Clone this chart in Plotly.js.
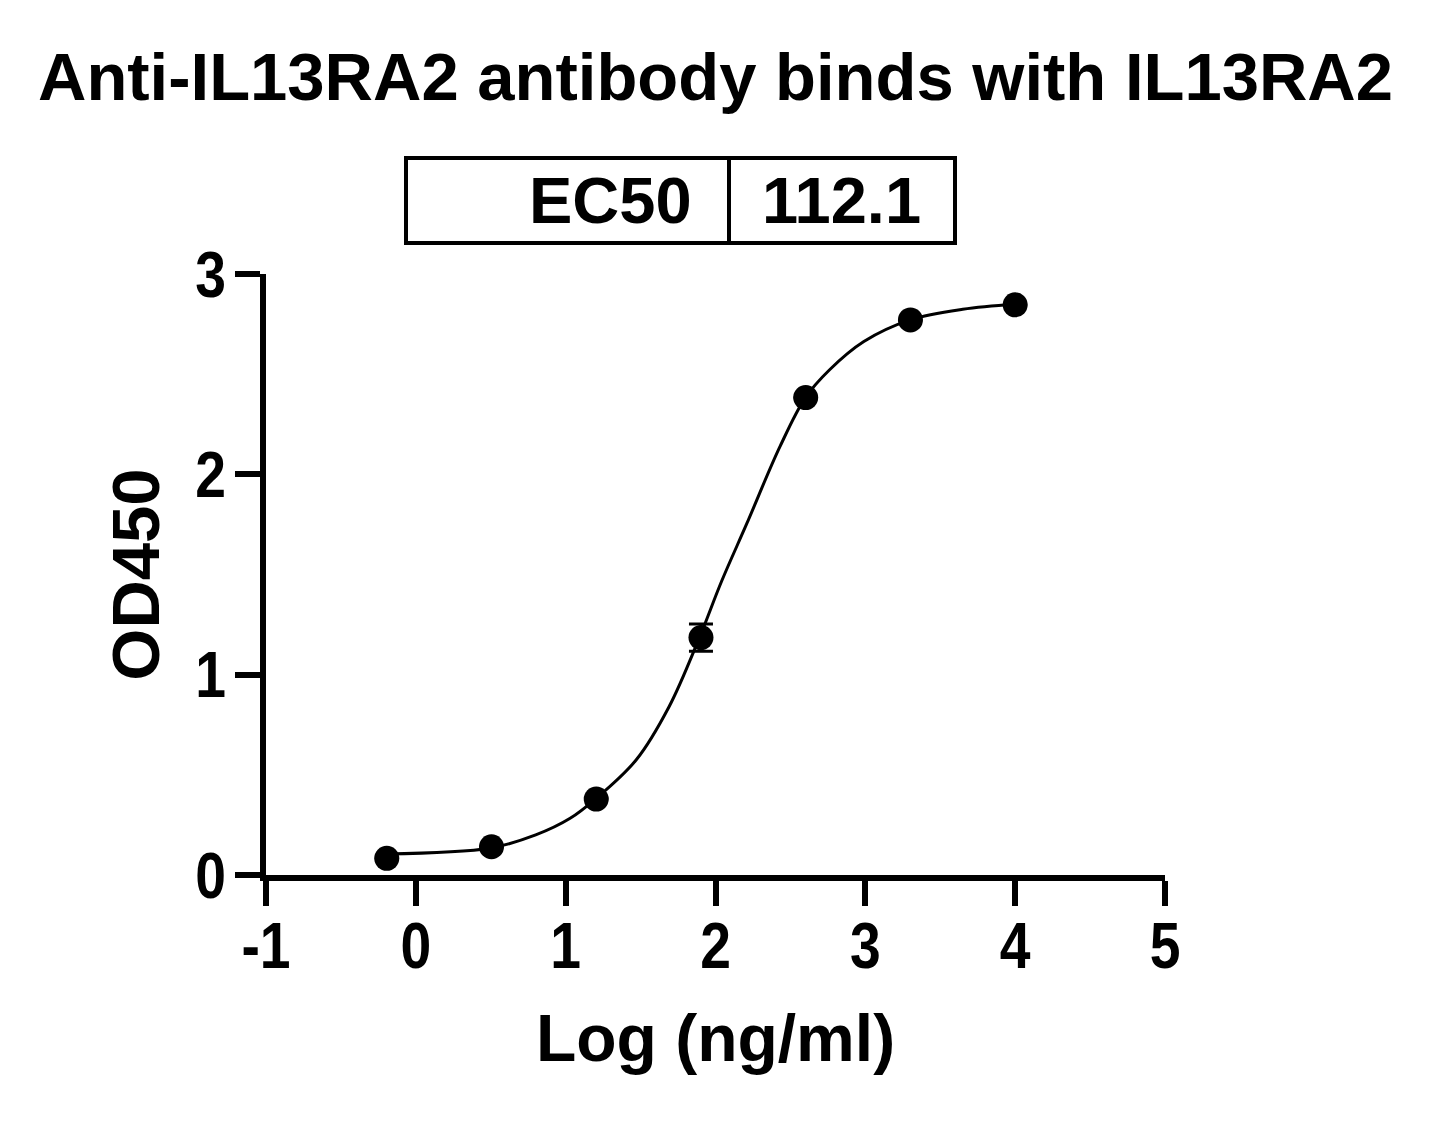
<!DOCTYPE html>
<html>
<head>
<meta charset="utf-8">
<script src="https://cdn.plot.ly/plotly-3.0.1.min.js"></script>
<style>html,body{margin:0;padding:0;background:#fff;}#chart{width:1431px;height:1121px;}</style>
</head>
<body>
<div id="chart"></div>
<script>
// Measured points: Log(ng/ml) vs OD450
const logConc = [-0.194, 0.505, 1.204, 1.903, 2.602, 3.301, 4.0];
const od450 = [0.083, 0.141, 0.379, 1.185, 2.383, 2.771, 2.846];
const od450Err = [0, 0, 0, 0.068, 0, 0, 0];

// Fitted curve
const fitX = [-0.2, 0.5, 0.8, 1.03, 1.2, 1.47, 1.69, 1.89, 2.04, 2.21, 2.43, 2.6, 2.76, 2.99, 3.3, 3.65, 4.0];
const fitY = [0.105, 0.135, 0.2, 0.283, 0.38, 0.574, 0.84, 1.18, 1.465, 1.756, 2.138, 2.383, 2.521, 2.663, 2.771, 2.824, 2.849];

const xTicks = [-1, 0, 1, 2, 3, 4, 5];
const yTicks = [0, 1, 2, 3];

const tableLabel = "EC50";
const tableValue = "112.1";

const FONT = "Arial, 'Liberation Sans', Helvetica, sans-serif";

const traces = [
  {
    x: fitX, y: fitY, mode: 'lines', type: 'scatter',
    line: {color: '#000', width: 3, shape: 'spline', smoothing: 1},
    hoverinfo: 'skip', showlegend: false
  },
  {
    x: logConc, y: od450, mode: 'markers', type: 'scatter',
    marker: {color: '#000', size: 25},
    error_y: {type: 'data', array: od450Err, visible: true, color: '#000', thickness: 3, width: 12},
    showlegend: false
  }
];

const L = 266, R = 1165, T = 274, B = 875;
const pw = R - L, ph = B - T;
const px = v => (v - L) / pw;
const py = v => (B - v) / ph;

const layout = {
  width: 1431, height: 1121,
  paper_bgcolor: '#fff', plot_bgcolor: '#fff',
  margin: {l: L, r: 1431 - R, t: T, b: 1121 - B, pad: 0},
  font: {family: FONT, color: '#000', weight: 700},
  title: {
    text: 'Anti-IL13RA2 antibody binds with IL13RA2',
    font: {family: FONT, size: 67, weight: 700, color: '#000'},
    x: 0.5, xref: 'container', xanchor: 'center',
    y: 1 - 77 / 1121, yref: 'container', yanchor: 'middle'
  },
  xaxis: {
    range: [-1, 5], tickvals: xTicks, ticktext: xTicks.map(String),
    showgrid: false, zeroline: false, showline: true, linewidth: 6, linecolor: '#000',
    ticks: 'outside', ticklen: 25, tickwidth: 6, tickcolor: '#000',
    ticklabelstandoff: -16,
    tickfont: {family: FONT, size: 65, weight: 700, color: '#000'},
    title: {text: 'Log (ng/ml)', font: {family: FONT, size: 66, weight: 700, color: '#000'}, standoff: 36},
    automargin: false, fixedrange: true
  },
  yaxis: {
    range: [0, 3], tickvals: yTicks, ticktext: yTicks.map(String),
    showgrid: false, zeroline: false, showline: true, linewidth: 6, linecolor: '#000',
    ticks: 'outside', ticklen: 25, tickwidth: 6, tickcolor: '#000',
    ticklabelstandoff: -4,
    tickfont: {family: FONT, size: 65, weight: 700, color: '#000'},
    title: {text: 'OD450', font: {family: FONT, size: 67, weight: 700, color: '#000'}, standoff: 10},
    automargin: false, fixedrange: true
  },
  shapes: [
    {type: 'rect', xref: 'paper', yref: 'paper', x0: px(406), x1: px(955), y0: py(243), y1: py(158),
     line: {color: '#000', width: 4}, fillcolor: 'rgba(0,0,0,0)'},
    {type: 'line', xref: 'paper', yref: 'paper', x0: px(729), x1: px(729), y0: py(243), y1: py(158),
     line: {color: '#000', width: 4}}
  ],
  annotations: [
    {text: tableLabel, xref: 'paper', yref: 'paper', x: px(694), y: py(200), xanchor: 'right', yanchor: 'middle',
     showarrow: false, font: {family: FONT, size: 65, weight: 700, color: '#000'}},
    {text: tableValue, xref: 'paper', yref: 'paper', x: px(841), y: py(200), xanchor: 'center', yanchor: 'middle',
     showarrow: false, font: {family: FONT, size: 65, weight: 700, color: '#000'}}
  ]
};

// Tick labels in the reference use a condensed face; compress them horizontally about their anchor.
function condenseTicks(gd) {
  gd.querySelectorAll('.xtick text, .ytick text').forEach(t => {
    const x = parseFloat(t.getAttribute('x')) || 0;
    const y = parseFloat(t.getAttribute('y')) || 0;
    const base = t.getAttribute('transform') || '';
    t.setAttribute('transform', base + ` translate(${x},${y}) scale(0.85,1) translate(${-x},${-y})`);
  });
}

Plotly.newPlot('chart', traces, layout, {displayModeBar: false, staticPlot: true})
  .then(gd => condenseTicks(gd));
</script>
</body>
</html>
